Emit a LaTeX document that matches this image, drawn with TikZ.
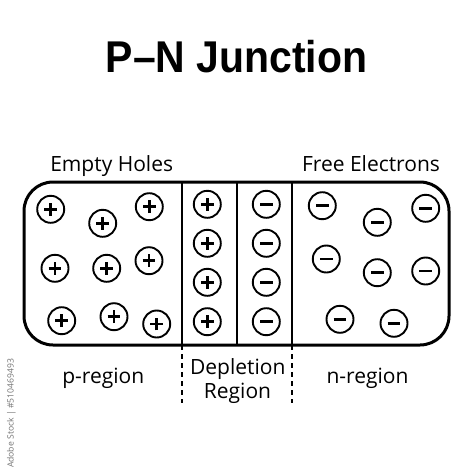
\documentclass[tikz,border=0pt]{standalone}
\usepackage{fontspec}
\setmainfont{Open Sans}
\newfontfamily\titlefont{Liberation Sans}
\begin{document}
\begin{tikzpicture}[x=1pt,y=-1pt,
  charge/.style={circle,draw,line width=1.9pt,minimum size=27pt,inner sep=0pt},
  plusq/.style={charge,path picture={
    \draw[line width=2.6pt] ([xshift=-6.3pt]path picture bounding box.center) -- ([xshift=6.3pt]path picture bounding box.center);
    \draw[line width=2.6pt] ([yshift=-6.3pt]path picture bounding box.center) -- ([yshift=6.3pt]path picture bounding box.center);}},
  minusq/.style={charge,path picture={
    \draw[line width=2.6pt] ([xshift=-6.3pt]path picture bounding box.center) -- ([xshift=6.3pt]path picture bounding box.center);}},
  lbl/.style={anchor=base,inner sep=0pt,font=\fontsize{21}{25}\selectfont},
  divider/.style={line width=2pt},
  dashdiv/.style={line width=2.8pt,dash pattern=on 4.5pt off 4.5pt}]
\useasboundingbox (0,0) rectangle (474,474);
\fill[white] (0,0) rectangle (474,474);
% title
\node[anchor=base,inner sep=0pt] (title) at (236.5,72) {\scalebox{0.92}[1]{\titlefont\bfseries\fontsize{44.5}{50}\selectfont P–N Junction}};
% top labels
\node[lbl] (holes) at (111.7,171) {Empty Holes};
\node[lbl] (elec) at (371,171) {Free Electrons};
% box
\draw[line width=3pt,rounded corners=29pt] (24,182) rectangle (449,345);
\coordinate (d1t) at (182,182); \coordinate (d1b) at (182,345); \coordinate (d1e) at (182,403);
\coordinate (mt) at (237,182); \coordinate (mb) at (237,345);
\coordinate (d2t) at (292,182); \coordinate (d2b) at (292,345); \coordinate (d2e) at (292,403);
\draw[divider] (d1t) -- (d1b);
\draw[divider] (mt) -- (mb);
\draw[divider] (d2t) -- (d2b);
\draw[dashdiv] (d1b) -- (d1e);
\draw[dashdiv] (d2b) -- (d2e);
% p-region holes
\node[plusq] (p1) at (50.7,209.3) {};
\node[plusq] (p2) at (102.7,223.3) {};
\node[plusq] (p3) at (149.3,206.7) {};
\node[plusq] (p4) at (55,268.3) {};
\node[plusq] (p5) at (106.7,268.3) {};
\node[plusq] (p6) at (149,260.7) {};
\node[plusq] (p7) at (61.7,320.7) {};
\node[plusq] (p8) at (114,316.7) {};
\node[plusq] (p9) at (156.7,324) {};
% depletion +
\node[plusq] (dp1) at (207.3,204.3) {};
\node[plusq] (dp2) at (207.3,243.3) {};
\node[plusq] (dp3) at (207.3,282.3) {};
\node[plusq] (dp4) at (207.3,321.7) {};
% depletion -
\node[minusq] (dn1) at (266.3,204.3) {};
\node[minusq] (dn2) at (266.3,243.3) {};
\node[minusq] (dn3) at (266.3,282.3) {};
\node[minusq] (dn4) at (266.3,321.7) {};
% n-region electrons
\node[minusq] (n1) at (322.3,205.7) {};
\node[minusq] (n2) at (377.3,222.3) {};
\node[minusq] (n3) at (425.7,208.3) {};
\node[minusq] (n4) at (326.3,259) {};
\node[minusq] (n5) at (377.3,272.7) {};
\node[minusq] (n6) at (425.7,271) {};
\node[minusq] (n7) at (340,319.3) {};
\node[minusq] (n8) at (394,323.3) {};
% bottom labels
\node[lbl] (preg) at (103.3,383.3) {p-region};
\node[lbl] (dep) at (237.8,374.3) {Depletion};
\node[lbl] (depr) at (237.5,398.3) {Region};
\node[lbl] (nreg) at (367.5,383.3) {n-region};
% watermark
\node[rotate=90,inner sep=0pt,text=black!55,font=\fontsize{8.6}{10}\selectfont] (wm) at (11.5,413.5) {Adobe Stock | \#510469493};
\end{tikzpicture}
\end{document}
